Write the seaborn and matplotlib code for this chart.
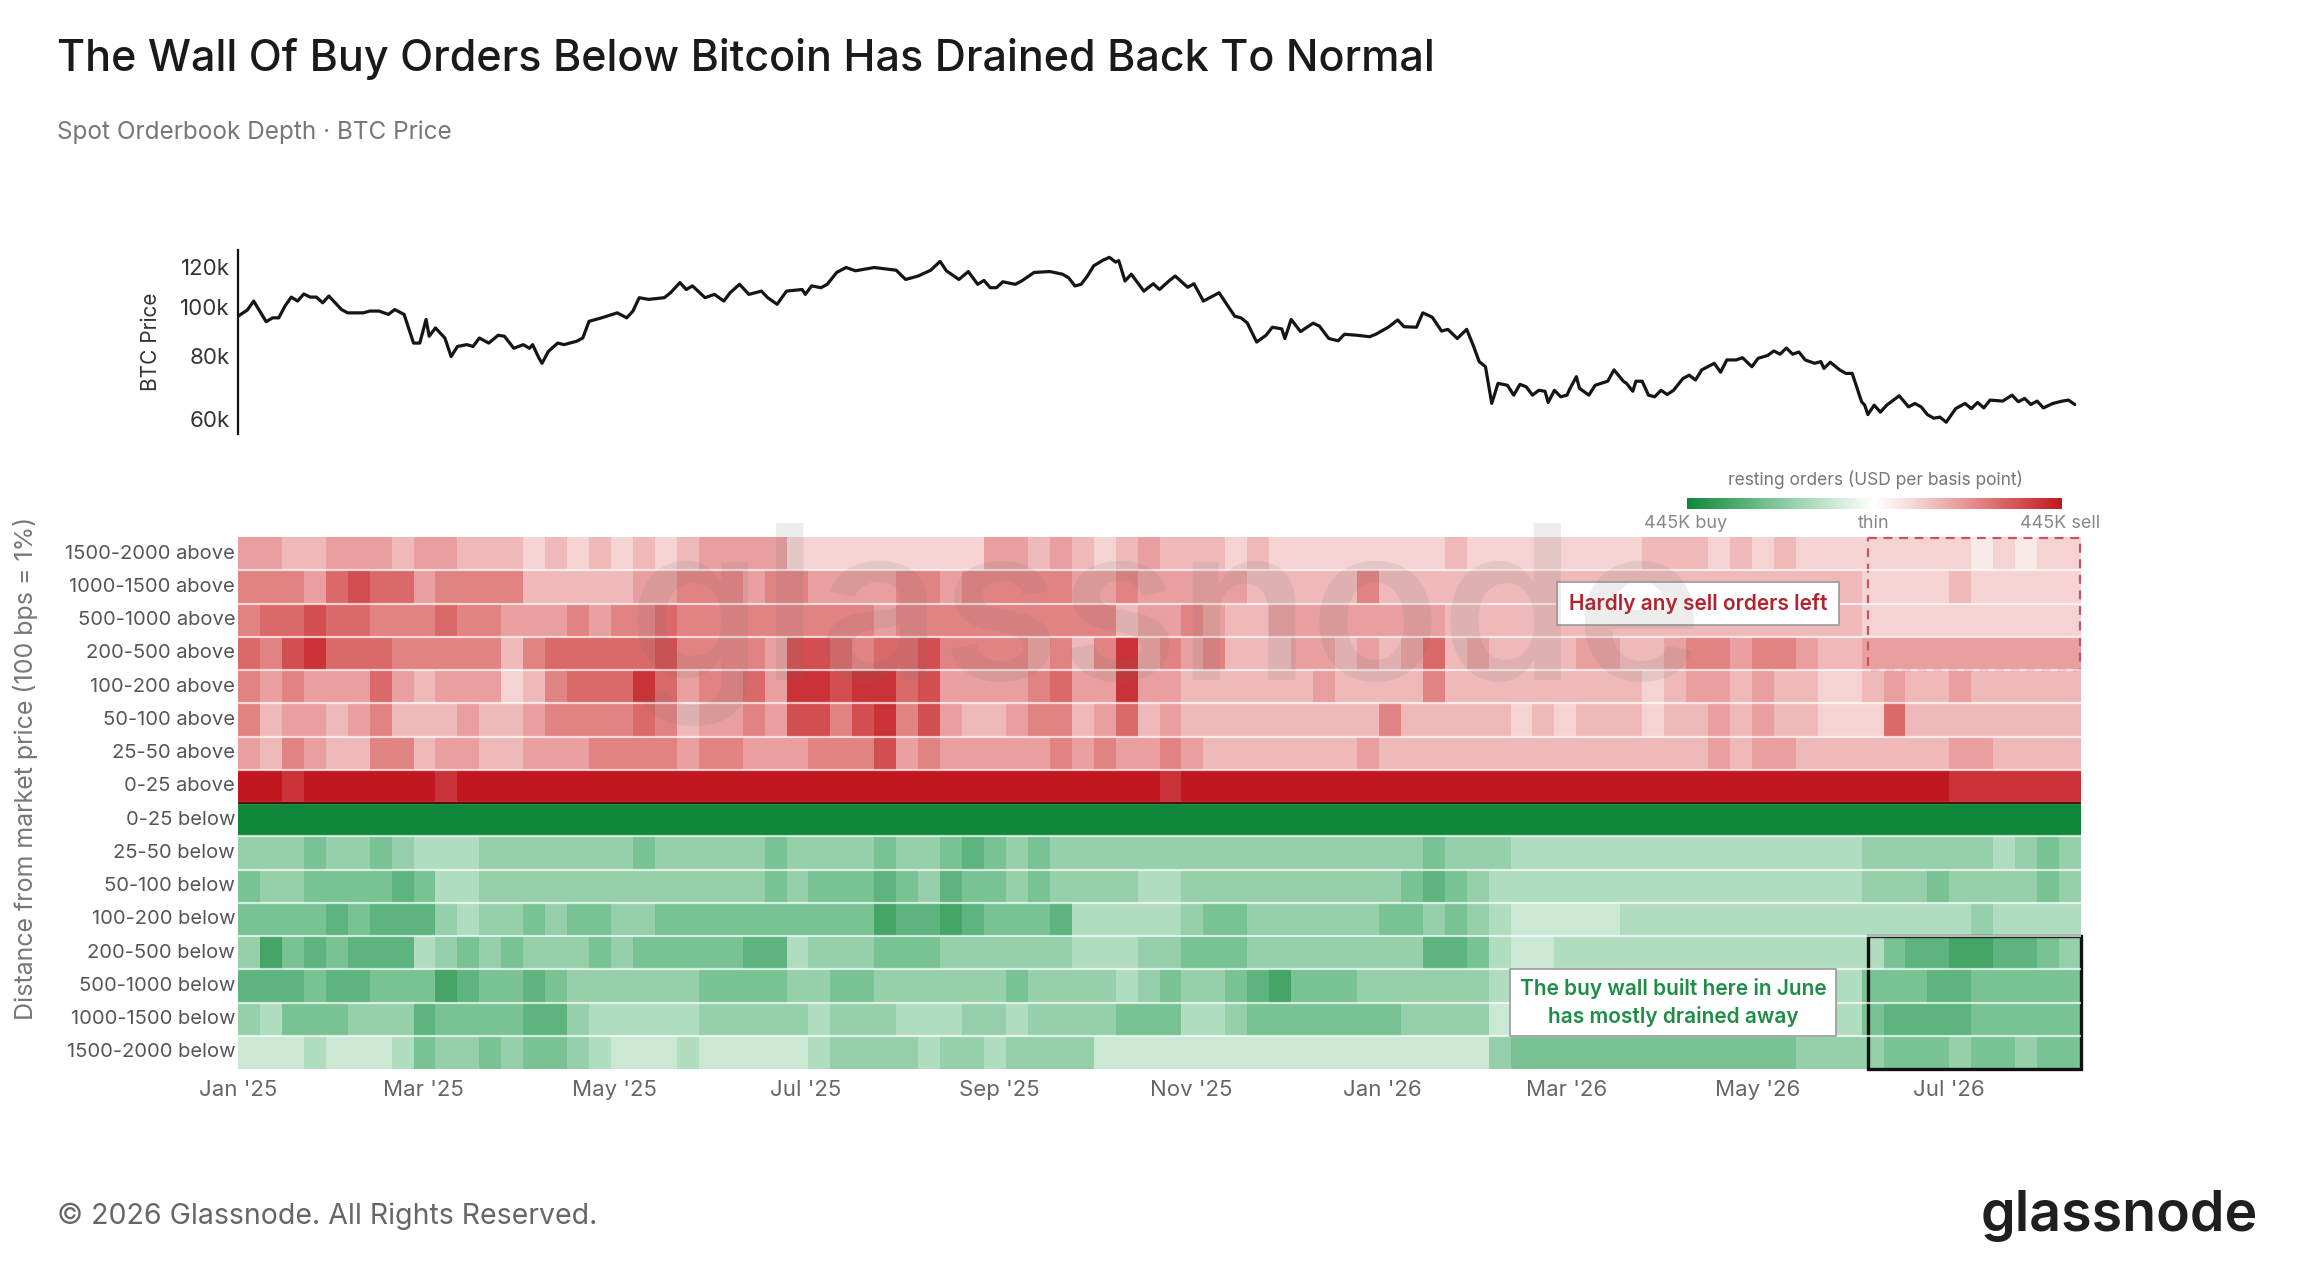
import numpy as np
import pandas as pd
import matplotlib
matplotlib.use("Agg")
import matplotlib.pyplot as plt
import seaborn as sns
from matplotlib.colors import LinearSegmentedColormap
from matplotlib.patches import Rectangle
from matplotlib.cm import ScalarMappable
from matplotlib.colors import Normalize

# ---- data ----
start = pd.Timestamp("2025-01-01")

# BTC price (days since 1 Jan 2025, price in $k)
price_day = [0, 3, 5, 9, 11, 13, 15, 17, 19, 21, 23, 25, 27, 29, 33, 35, 40, 42, 45, 48,
             50, 53, 56, 58, 60, 61, 63, 66, 68, 70, 73, 75, 77, 80, 83, 85, 88, 91, 93, 94,
             96, 97, 99, 102, 104, 108, 110, 112, 116, 121, 124, 126, 128, 131, 136, 138, 141, 143, 145, 149,
             152, 155, 157, 160, 163, 167, 169, 172, 175, 180, 181, 183, 186, 188, 191, 194, 197, 200, 203,
             210, 213, 217, 221, 224, 226, 230, 233, 236, 238, 240, 242, 244, 248, 250, 254, 259, 263, 265, 267,
             269, 271, 273, 276, 278, 280, 281, 283, 285, 289, 292, 294, 297, 299, 303, 305, 308, 310, 313, 318,
             320, 322, 325, 328, 330, 333, 334, 336, 339, 343, 345, 348, 351, 353, 357, 361, 363, 367, 370, 372,
             376, 378, 381, 384, 386, 389, 392, 394, 396, 398, 400, 402,
             405, 407, 409, 411, 413, 415, 417, 418, 420, 422, 424, 425, 427, 428, 431, 433, 437, 439, 442, 443,
             445, 446, 448, 450, 452, 454, 456, 458, 461, 463, 465, 467, 471, 473, 475, 478, 480, 483, 485, 488,
             490, 492, 494, 496, 498, 500, 503, 505, 506, 508, 511, 513, 515, 518, 519, 520, 522, 524, 526, 530,
             533, 535, 537, 539, 541, 543, 545, 548, 551, 553, 555, 557, 559, 563, 566, 568, 570, 572, 574, 576,
             579, 582, 584, 586]
price_k = [96.0, 98.8, 102.9, 93.6, 95.3, 95.3, 100.6, 104.8, 102.9, 106.3, 104.8, 104.8, 102.1, 105.3, 99.0, 97.5, 97.5, 98.3, 98.3, 96.8,
           99.0, 96.8, 84.9, 84.9, 94.6, 87.6, 91.0, 86.9, 79.8, 83.6, 84.3, 83.6, 86.9, 84.9, 88.0, 87.6, 82.9, 84.3, 82.9, 84.3,
           79.3, 77.4, 81.7, 84.9, 84.3, 85.6, 86.9, 93.8, 95.3, 97.5, 95.3, 98.3, 104.5, 103.7, 104.5, 106.9, 112.0, 108.5, 110.3, 104.5,
           106.1, 102.9, 106.9, 111.1, 106.1, 107.7, 104.5, 101.4, 107.7, 108.5, 106.1, 110.3, 109.4, 111.1, 117.3, 120.0, 118.2, 119.1, 120.0,
           118.5, 113.6, 115.4, 118.5, 123.4, 118.2, 113.6, 117.8, 111.1, 113.1, 109.4, 109.4, 112.4, 111.1, 112.8, 117.3, 117.8, 116.4, 114.5, 110.3,
           111.1, 115.4, 120.9, 124.1, 125.7, 123.0, 123.8, 112.8, 116.4, 107.7, 111.4, 108.5, 112.8, 115.4, 109.6, 111.4, 102.9, 104.5, 106.9, 96.0,
           95.3, 93.1, 85.3, 88.0, 91.3, 90.6, 86.7, 94.6, 89.5, 93.0, 91.8, 86.7, 85.8, 88.4, 88.0, 87.4, 88.4, 91.3, 94.4, 91.5,
           91.3, 97.5, 95.6, 89.7, 90.4, 86.7, 90.4, 84.3, 78.0, 76.2, 64.4, 70.6,
           70.0, 66.9, 70.3, 69.5, 66.9, 68.4, 68.1, 64.7, 68.4, 66.4, 66.9, 69.0, 72.8, 69.0, 66.9, 70.0, 71.3, 75.1, 71.3, 70.6,
           68.1, 71.3, 71.3, 66.9, 66.4, 68.4, 67.1, 68.4, 72.2, 73.3, 71.7, 75.1, 77.4, 74.3, 78.6, 78.6, 79.4, 76.2, 79.2, 80.2,
           81.9, 80.7, 83.0, 80.7, 81.5, 78.6, 77.4, 78.0, 75.6, 77.8, 75.1, 73.9, 73.9, 64.9, 63.9, 61.2, 63.9, 61.9, 63.9, 66.7,
           63.4, 64.4, 63.4, 61.2, 60.2, 60.5, 59.1, 62.9, 64.4, 62.9, 64.7, 63.1, 65.4, 65.1, 66.9, 64.9, 65.9, 64.1, 65.1, 63.1,
           64.4, 65.1, 65.4, 64.1]

# weekly orderbook depth, one digit per week (0 = thin ... 9 = 445K USD per bp)
sell_labels = ["1500-2000 above", "1000-1500 above", "500-1000 above", "200-500 above",
               "100-200 above", "50-100 above", "25-50 above", "0-25 above"]
sell_depth = [
    "443344434433323232323" + "4" + "444222222222443432343" + "332322222222322222222" + "33323232222222212122",
    "555467664555533333445" + "5" + "545544445545555544544" + "444333335333333333333" + "33333333332222322222",
    "566766555655444545565" + "5" + "555555545555555555344" + "543344444444333333333" + "33333333332222222222",
    "657866655555356666675" + "5" + "554776566755554535845" + "453334434346343333443" + "34554554334444444444",
    "545444643444235666864" + "5" + "564887886744445644844" + "333333433335333333333" + "23443433223433433333",
    "534434533343345555653" + "4" + "454775785743345534634" + "333333333533333232333" + "23343433222633333333",
    "435433553443344455554" + "5" + "544455574544444545445" + "433333334333333333333" + "33343443333333443333",
    "998999999899999999999" + "9" + "999999999999999999998" + "999999999999999999999" + "99999999999999888888",
]
buy_labels = ["0-25 below", "25-50 below", "50-100 below", "100-200 below",
              "200-500 below", "500-1000 below", "1000-1500 below", "1500-2000 below"]
buy_depth = [
    "999999999999999999999" + "9" + "999999999999999999999" + "999999999999999999999" + "99999999999999999999",
    "444544543334444444544" + "4" + "445444454456545444444" + "444444444445444333333" + "33333333334444443454",
    "544555565334444444444" + "4" + "445455565465545444433" + "444444444456543333333" + "33333333334445444454",
    "555565666434454554455" + "5" + "555555576676555633333" + "455444444554543222223" + "33333333333333343333",
    "475656663454544454555" + "5" + "566344455544444433344" + "555444444446653223333" + "33333333333566776654",
    "666566555765565444444" + "5" + "555445544444454444345" + "445675554444443333333" + "33333333335556655555",
    "435554446555566433333" + "4" + "444434443334434444555" + "334555555544442222222" + "33333333335666655555",
    "222322235445455432223" + "2" + "222234444344344442222" + "222222222222224555555" + "55555554444555455455",
]
depth_max = 445  # K USD per basis point

month_ticks = ["2025-01-01", "2025-03-01", "2025-05-01", "2025-07-01", "2025-09-01",
               "2025-11-01", "2026-01-01", "2026-03-01", "2026-05-01", "2026-07-01"]
month_labels = ["Jan '25", "Mar '25", "May '25", "Jul '25", "Sep '25",
                "Nov '25", "Jan '26", "Mar '26", "May '26", "Jul '26"]
wall_start = "2026-06-05"

# ---- build heatmap table ----
sell_vals = [[int(c) / 9 * depth_max for c in s] for s in sell_depth]
buy_vals = [[-int(c) / 9 * depth_max for c in s] for s in buy_depth]
depth_df = pd.DataFrame(sell_vals + buy_vals, index=sell_labels + buy_labels)
n_weeks = depth_df.shape[1]

prices = pd.DataFrame({"day": price_day, "price": np.array(price_k) * 1000})

cmap = LinearSegmentedColormap.from_list(
    "depth",
    [(0.0, "#10873a"), (0.2, "#6fbe8c"), (0.4, "#d0ebd9"), (0.5, "#ffffff"),
     (0.6, "#f7d9d9"), (0.8, "#e07a7a"), (1.0, "#c0181e")])

sns.set_theme(style="white")
plt.rcParams["font.family"] = ["Inter", "DejaVu Sans"]

W, H = 2306, 1266
fig = plt.figure(figsize=(W / 100, H / 100), dpi=100)
left, right = 238 / W, 2081 / W

# ---- price panel ----
ax_p = fig.add_axes([left, 1 - 434 / H, right - left, (434 - 250) / H])
sns.lineplot(data=prices, x="day", y="price", ax=ax_p, color="#151515", lw=2.3)
ax_p.set_yscale("log")
ax_p.set_ylim(56000, 130000)
ax_p.set_xlim(0, n_weeks * 7)
ax_p.set_yticks([60000, 80000, 100000, 120000])
ax_p.set_yticklabels(["60k", "80k", "100k", "120k"])
ax_p.yaxis.set_minor_locator(matplotlib.ticker.NullLocator())
ax_p.set_xticks([])
ax_p.set_xlabel("")
ax_p.set_ylabel("BTC Price", fontsize=15, color="#333333", labelpad=14)
for s in ["top", "right", "bottom"]:
    ax_p.spines[s].set_visible(False)
ax_p.spines["left"].set_color("#111111")
ax_p.spines["left"].set_linewidth(1.6)
ax_p.tick_params(axis="y", length=0, pad=6, labelsize=16, colors="#333333")

# ---- heatmap panel ----
ax_h = fig.add_axes([left, 1 - 1069 / H, right - left, (1069 - 537) / H])
sns.heatmap(depth_df, ax=ax_h, cmap=cmap, vmin=-depth_max, vmax=depth_max,
            cbar=False, xticklabels=False, yticklabels=True, linewidths=0)
for i in range(1, 16):
    ax_h.axhline(i, color="white", lw=1.6, alpha=0.7)
ax_h.axhline(8, color="#4a1010", lw=1.4)
tick_pos = [(pd.Timestamp(t) - start).days / 7 for t in month_ticks]
ax_h.set_xticks(tick_pos)
ax_h.set_xticklabels(month_labels, rotation=0, fontsize=16, color="#666666")
ax_h.tick_params(axis="both", length=0, pad=8)
ax_h.tick_params(axis="y", labelsize=14.5, labelcolor="#555555", pad=2)
ax_h.set_xlabel("")
ax_h.set_ylabel("")

x0 = (pd.Timestamp(wall_start) - start).days / 7
ax_h.add_patch(Rectangle((x0, 0.04), n_weeks - x0 - 0.05, 3.96, fill=False,
                         ec="#c85462", lw=1.6, ls=(0, (4, 3)), clip_on=False))
ax_h.add_patch(Rectangle((x0, 12), n_weeks - x0, 4, fill=False,
                         ec="#111111", lw=2.4, clip_on=False))

# watermark
fig.text(1165 / W, 1 - 625 / H, "glassnode", ha="center", va="center",
         fontsize=155, fontweight="semibold", color="#707070", alpha=0.12)

ax_h.text(66.55, 2.0, "Hardly any sell orders left", ha="center", va="center",
          fontsize=15, fontweight="semibold", color="#b3232f", zorder=5,
          bbox=dict(boxstyle="square,pad=0.55", fc="white", ec="#9a9a9a", lw=1.2))
ax_h.text(65.4, 14.0, "The buy wall built here in June\nhas mostly drained away",
          ha="center", va="center", fontsize=15, fontweight="semibold", color="#1f8c48",
          linespacing=1.4, zorder=5,
          bbox=dict(boxstyle="square,pad=0.45", fc="white", ec="#9a9a9a", lw=1.2))

# ---- colour bar ----
cax = fig.add_axes([1687 / W, 1 - 509 / H, 375 / W, 11 / H])
cb = fig.colorbar(ScalarMappable(norm=Normalize(-depth_max, depth_max), cmap=cmap),
                  cax=cax, orientation="horizontal")
cb.outline.set_visible(False)
cb.set_ticks([])
fig.text(1875 / W, 1 - 480 / H, "resting orders (USD per basis point)", ha="center",
         va="center", fontsize=12.5, color="#777777")
fig.text(1686 / W, 1 - 524 / H, f"{depth_max}K buy", ha="center", va="center",
         fontsize=13, color="#888888")
fig.text(1874 / W, 1 - 524 / H, "thin", ha="center", va="center", fontsize=13, color="#888888")
fig.text(2060 / W, 1 - 524 / H, f"{depth_max}K sell", ha="center", va="center",
         fontsize=13, color="#888888")

# ---- titles and footer ----
fig.text(57 / W, 1 - 59 / H, "The Wall Of Buy Orders Below Bitcoin Has Drained Back To Normal",
         ha="left", va="center", fontsize=31, fontweight="medium", color="#1a1a1a")
fig.text(57 / W, 1 - 132 / H, "Spot Orderbook Depth \u00b7 BTC Price", ha="left", va="center",
         fontsize=17.5, color="#777777")
fig.text(26 / W, 1 - 768 / H, "Distance from market price (100 bps = 1%)", rotation=90,
         ha="center", va="center", fontsize=18, color="#777777")
fig.text(57 / W, 1 - 1216 / H, "\u00a9 2026 Glassnode. All Rights Reserved.", ha="left",
         va="center", fontsize=20.5, color="#666666")
fig.text(2258 / W, 1 - 1216 / H, "glassnode", ha="right", va="center", fontsize=40,
         fontweight="semibold", color="#1f1f1f")

fig.savefig("out.png", dpi=100, facecolor="white")
